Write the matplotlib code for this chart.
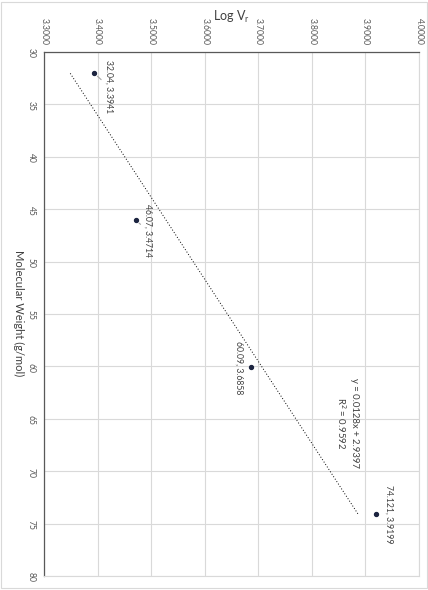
import matplotlib
matplotlib.use("Agg")
import matplotlib.pyplot as plt
import matplotlib.patches as mpatches
import numpy as np

plt.rcParams["font.family"] = ["Lato", "DejaVu Sans"]

# data: molecular weight (g/mol) vs log Vr
mol_weight = [32.04, 46.07, 60.09, 74.121]
log_vr = [3.3941, 3.4714, 3.6858, 3.9199]
point_labels = ["32.04, 3.3941", "46.07, 3.4714", "60.09, 3.6858", "74.121, 3.9199"]
label_offsets = [(14, -13), (12, -10), (-12, 0), (13, 0)]  # pixels from the point
leader = [True, True, False, False]

logv_ticks = [3.3, 3.4, 3.5, 3.6, 3.7, 3.8, 3.9, 4.0]
mw_ticks = [30, 35, 40, 45, 50, 55, 60, 65, 70, 75, 80]

grid_c = "#d9d9d9"
text_c = "#595959"

fig = plt.figure(figsize=(4.28, 5.90), dpi=100)
ax = fig.add_axes([44 / 428, 1 - 576 / 590, (419 - 44) / 428, (576 - 52) / 590])

# trendline over the data range
slope, icpt = np.polyfit(mol_weight, log_vr, 1)
xs = np.array([min(mol_weight), max(mol_weight)])
ax.plot(slope * xs + icpt, xs, color="black", lw=0.7, ls=(0, (1, 2)), zorder=2)

ax.scatter(log_vr, mol_weight, s=8, color="#1c2440", zorder=3)

for lv, mw, lab, off, ld in zip(log_vr, mol_weight, point_labels, label_offsets, leader):
    ax.annotate(lab, xy=(lv, mw), xytext=off, textcoords="offset pixels",
                rotation=-90, ha="center", va="center", fontsize=6.2, color="#404040",
                arrowprops=dict(arrowstyle="-", color="#a6a6a6", lw=0.8, shrinkA=0, shrinkB=3) if ld else None,
                zorder=4)

ax.text(3.866, 65.4, "y = %.4fx + %.4f\nR$^2$ = 0.9592" % (slope, icpt), rotation=-90,
        ha="center", va="center", multialignment="center", fontsize=6.8, color="#404040")

ax.set_xlim(3.3, 4.0)
ax.set_ylim(80, 30)
ax.set_xticks(logv_ticks)
ax.set_xticklabels(["%.4f" % t for t in logv_ticks])
ax.set_yticks(mw_ticks)
ax.set_yticklabels([str(t) for t in mw_ticks])
ax.xaxis.tick_top()
ax.tick_params(axis="x", length=0, pad=5, labelsize=6.2, labelcolor=text_c, labelrotation=-90)
ax.tick_params(axis="y", length=0, pad=6, labelsize=6.2, labelcolor=text_c, labelrotation=-90)
ax.grid(True, color=grid_c, lw=0.8)
ax.set_axisbelow(True)
for side in ["top", "left"]:
    ax.spines[side].set_color("#595959")
    ax.spines[side].set_linewidth(0.9)
for side in ["bottom", "right"]:
    ax.spines[side].set_color(grid_c)
    ax.spines[side].set_linewidth(0.8)

fig.text(231.5 / 428, 1 - 17 / 590, r"Log V$_\mathregular{r}$", ha="center", va="center", fontsize=9,
         color="#404040")
fig.text(19 / 428, 1 - 313 / 590, "Molecular Weight (g/mol)", rotation=-90, ha="center", va="center",
         fontsize=8, color="#404040")

fig.patches.append(mpatches.Rectangle((0.003, 0.003), 0.994, 0.994, transform=fig.transFigure,
                                      fill=False, edgecolor=grid_c, lw=0.8))

fig.savefig("out.png", dpi=100)
